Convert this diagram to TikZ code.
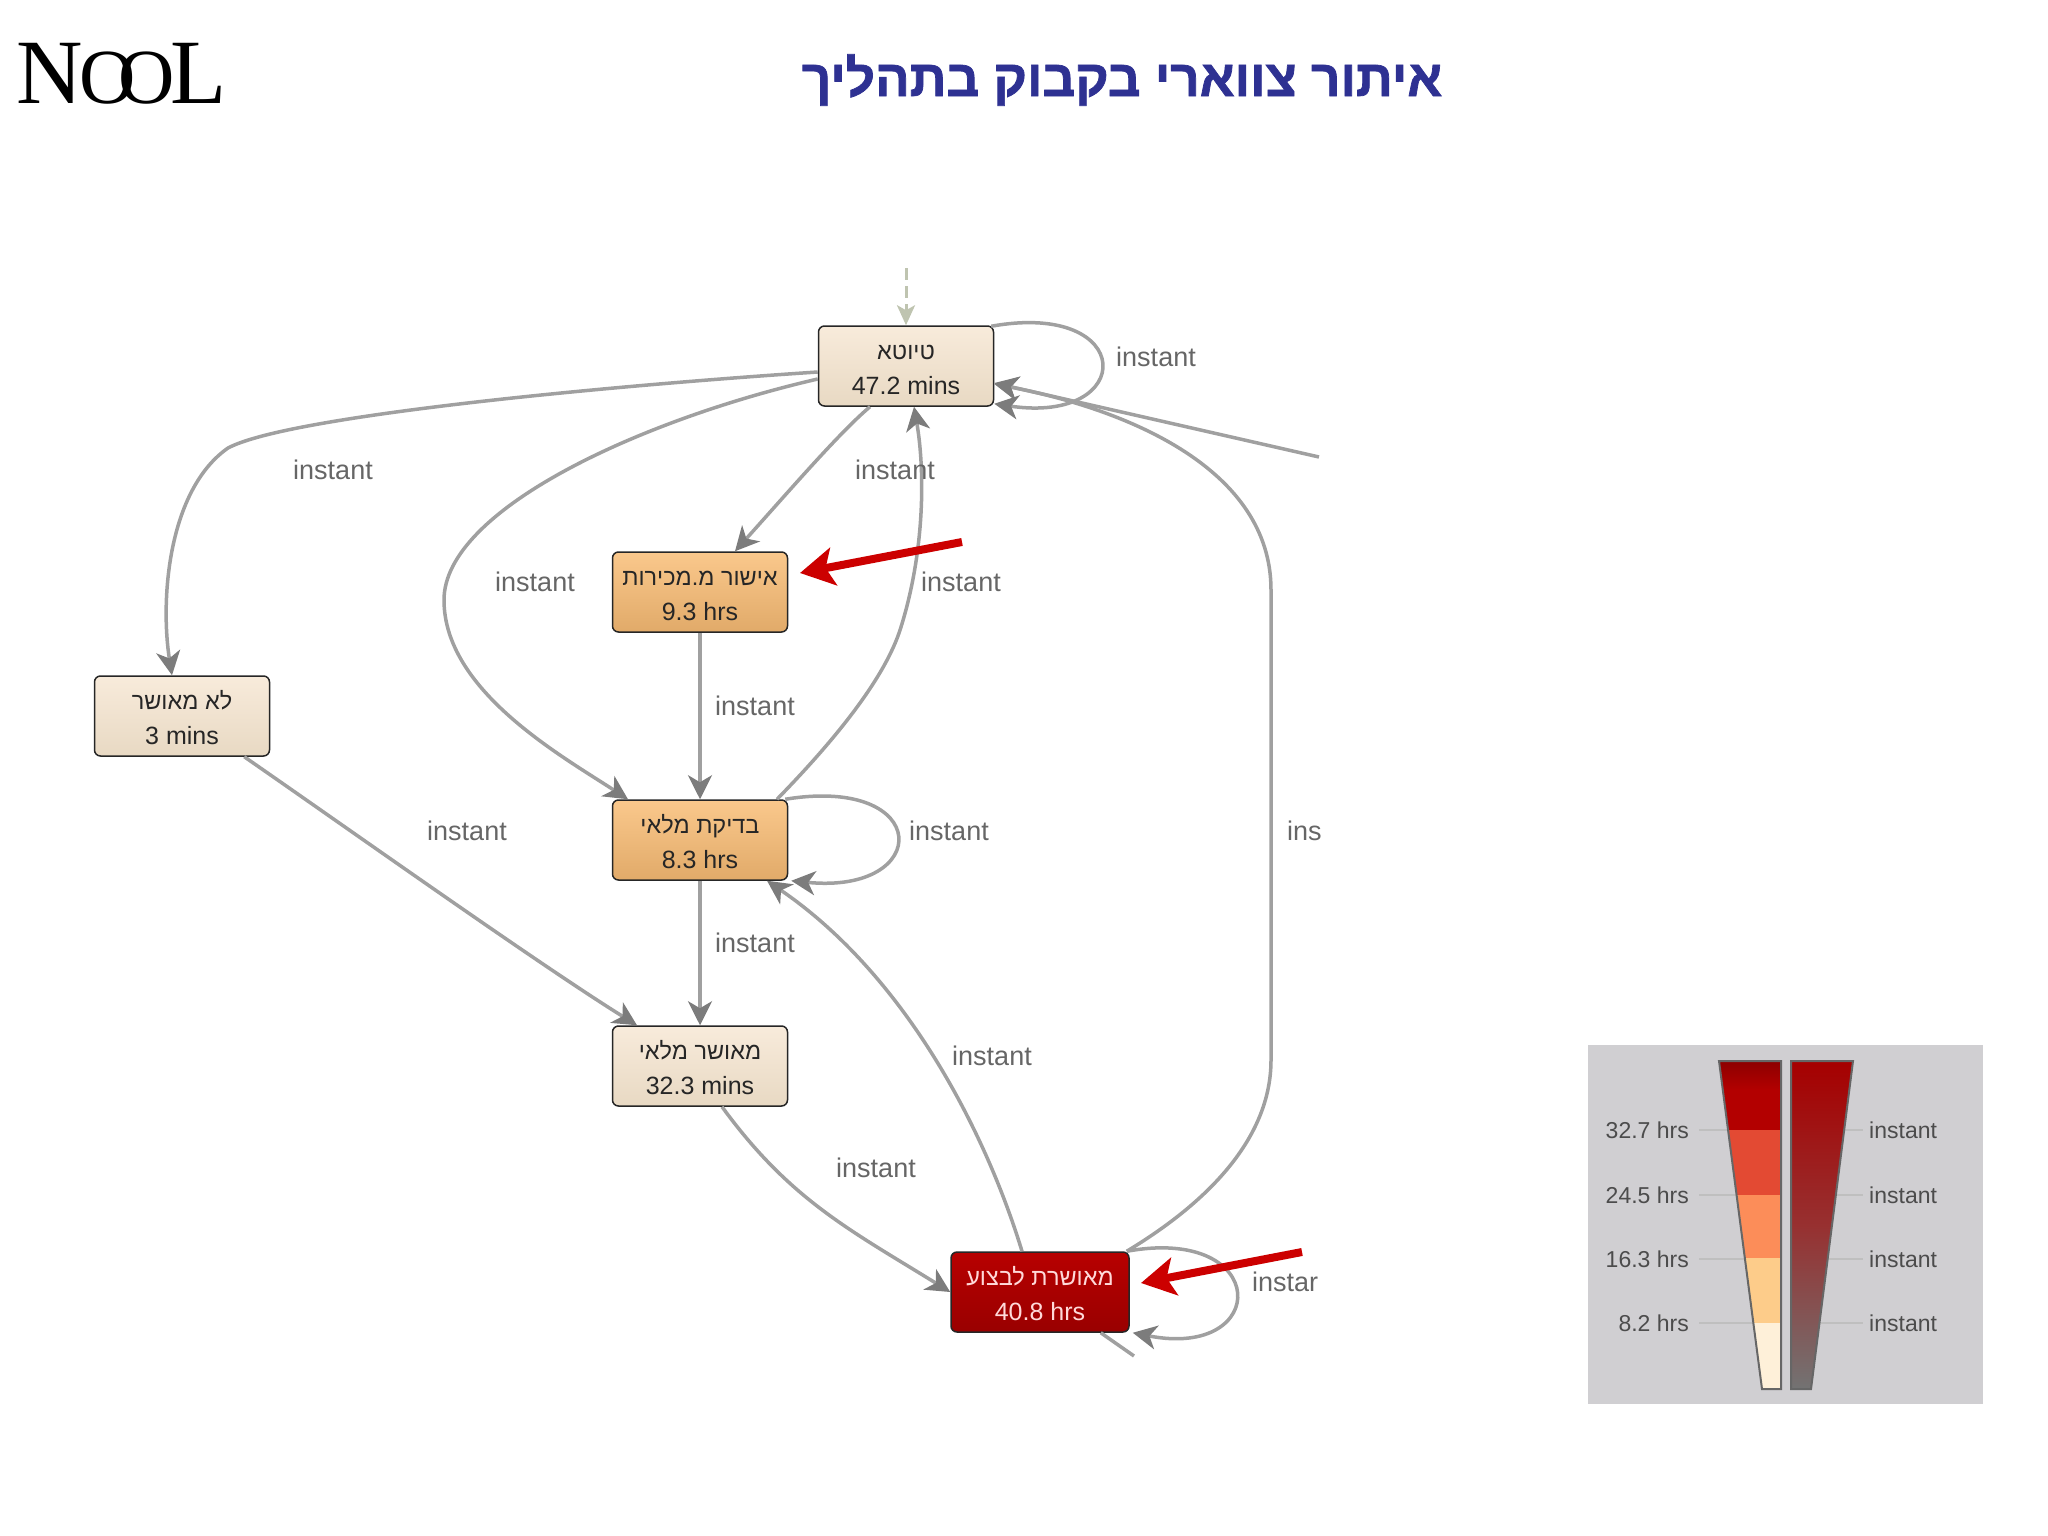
\documentclass[tikz,border=0pt]{standalone}
\usepackage{fontspec}
\setmainfont{Liberation Sans}
\newfontfamily\hebfont[Script=Hebrew,Scale=0.94]{Liberation Sans}
\newfontfamily\titlefont[Script=Hebrew,Scale=0.94,FakeBold=1.4]{Liberation Sans Bold}
\newfontfamily\logofont{Liberation Serif}
\TeXXeTstate=1
\usetikzlibrary{arrows.meta, positioning}
\newcommand{\heb}[1]{{\hebfont\beginR #1\endR}}
\definecolor{titleblue}{HTML}{2E3192}
\definecolor{flowgray}{HTML}{A0A0A0}
\definecolor{tipgray}{HTML}{7C7C7C}
\definecolor{labelgray}{HTML}{666666}
\definecolor{arrowred}{HTML}{CC0000}
\definecolor{legendbg}{HTML}{D0CFD2}
\definecolor{startgreen}{HTML}{BFC4B0}
\tikzset{
  stage/.style={draw=black!85, line width=1.5pt, rounded corners=6pt, minimum width=175pt,
    minimum height=80pt, inner sep=0pt, align=center, text=black!85,
    font=\fontsize{25}{35}\selectfont, text height=60pt, text depth=4pt},
  pale/.style={stage, top color={rgb,255:red,248;green,235;blue,219}, bottom color={rgb,255:red,232;green,217;blue,195}},
  warm/.style={stage, top color={rgb,255:red,250;green,200;blue,140}, bottom color={rgb,255:red,225;green,170;blue,105}},
  hot/.style={stage, top color=red!72!black, bottom color=red!60!black, text=white!85!red},
  flow/.style={draw=flowgray, line width=3.5pt, -{Stealth[length=24pt,width=24pt,inset=7pt,color=tipgray]}},
  lbl/.style={text=labelgray, font=\fontsize{27}{27}\selectfont, inner sep=0pt},
  callout/.style={draw=arrowred, line width=8pt, -{Stealth[length=34pt,width=38pt,inset=8pt]}},
  lgnd/.style={text=black!70, font=\fontsize{23}{23}\selectfont, inner sep=0pt},
  tick/.style={draw=black!25, line width=1.5pt}
}

\begin{document}
\begin{tikzpicture}[x=1pt, y=-1pt, on grid]
  \useasboundingbox (0,0) rectangle (2048,1536);

  \node[inner sep=0pt, anchor=west] (logo) at (16,74)
    {\logofont\fontsize{92}{92}\selectfont N\kern-3pt{\fontsize{78}{78}\selectfont O\kern-18pt O}\kern-4pt L};
  \node[text=titleblue, inner sep=0pt] (title) at (1122,80)
    {\fontsize{54.5}{55}\selectfont\titlefont\beginR איתור צווארי בקבוק בתהליך\endR};

  % states
  \node[pale] (draft) at (906,366) {\heb{טיוטא}\\47.2 mins};
  \node[warm, below left=226pt and 206pt of draft] (sales) {\heb{אישור מ.מכירות}\\9.3 hrs};
  \node[warm, below=248pt of sales] (check) {\heb{בדיקת מלאי}\\8.3 hrs};
  \node[pale, below=226pt of check] (full) {\heb{מאושר מלאי}\\32.3 mins};
  \node[pale, below left=124pt and 518pt of sales] (rejected) {\heb{לא מאושר}\\3 mins};
  \node[hot, minimum width=178pt, below right=226pt and 340pt of full] (exec) {\heb{מאושרת לבצוע}\\40.8 hrs};

  % free ends
  \coordinate (start) at (906,268);
  \coordinate (cutin) at (1319,457);
  \coordinate (cutout) at (1134,1356);
  \coordinate (salestail) at (962,542);
  \coordinate (salestip) at (800,573);
  \coordinate (exectail) at (1302,1252);
  \coordinate (exectip) at (1141,1283);

  % connectors
  \draw[draw=startgreen, line width=3pt, dash pattern=on 12pt off 6pt,
    -{Stealth[length=20pt,width=18pt,inset=5pt,color=startgreen]}] (start) -- (draft.north);
  \draw[flow] ([xshift=-3pt,yshift=-1pt]draft.north east) .. controls (1137,300) and (1137,425) .. ([yshift=3pt]draft.south east);
  \draw[flow] ([yshift=-6pt]draft.west) .. controls (620,385) and (290,415) .. (228,448)
    .. controls (168,490) and (160,600) .. ([xshift=-10pt]rejected.north);
  \draw[flow] ([yshift=-13pt]draft.west) .. controls (640,420) and (444,510) .. (444,600)
    .. controls (444,690) and (560,755) .. ([xshift=-72pt]check.north);
  \draw[flow] ([xshift=-36pt]draft.south) .. controls (840,432) and (790,490) .. ([xshift=35pt]sales.north);
  \draw[flow] ([xshift=77pt]check.north) .. controls (830,745) and (885,680) .. (901,627)
    .. controls (925,550) and (925,470) .. ([xshift=8pt]draft.south);
  \draw[flow] (sales) -- (check);
  \draw[flow] (check) -- (full);
  \draw[flow] ([xshift=-3pt]check.north east) .. controls (933,775) and (933,895) .. ([xshift=3pt]check.south east);
  \draw[flow] ([xshift=-26pt]rejected.south east) .. controls (350,830) and (540,965) .. ([xshift=-63pt]full.north);
  \draw[flow] ([xshift=22pt]full.south) .. controls (790,1200) and (850,1230) .. (exec.west);
  \draw[flow] ([xshift=-18pt]exec.north) .. controls (985,1130) and (905,975) .. ([xshift=67pt]check.south);
  \draw[flow] ([xshift=-3pt]exec.north east) .. controls (1220,1195) and (1271,1130) .. (1271,1060)
    -- (1271,590) .. controls (1271,470) and (1130,410) .. ([yshift=-18pt]draft.east);
  \draw[flow] (cutin) -- ([yshift=-17pt]draft.east);
  \draw[flow] ([xshift=-3pt]exec.north east) .. controls (1271,1225) and (1271,1360) .. ([xshift=3pt]exec.south east);
  \draw[draw=flowgray, line width=3.5pt] ([xshift=-29pt]exec.south east) -- (cutout);

  \draw[callout] (salestail) -- (salestip);
  \draw[callout] (exectail) -- (exectip);

  % edge labels
  \node[lbl] (l1) at (1156,357) {instant};
  \node[lbl] (l2) at (333,470) {instant};
  \node[lbl] (l3) at (895,470) {instant};
  \node[lbl] (l4) at (535,582) {instant};
  \node[lbl] (l5) at (961,582) {instant};
  \node[lbl] (l6) at (755,706) {instant};
  \node[lbl] (l7) at (467,831) {instant};
  \node[lbl] (l8) at (949,831) {instant};
  \node[lbl, anchor=west] (l9) at (1287,831) {ins};
  \node[lbl] (l10) at (755,943) {instant};
  \node[lbl] (l11) at (992,1056) {instant};
  \node[lbl] (l12) at (876,1168) {instant};
  \node[lbl, anchor=west] (l13) at (1252,1282) {instar};

  % legend
  \fill[legendbg] (1588,1045) rectangle (1983,1404);
  \foreach \ypos/\hrs in {1130/32.7 hrs, 1195/24.5 hrs, 1259/16.3 hrs, 1323/8.2 hrs} {
    \draw[tick] (1699,\ypos) -- (1760,\ypos);
    \draw[tick] (1800,\ypos) -- (1863,\ypos);
    \node[lgnd, anchor=east] at (1689,\ypos) {\hrs};
    \node[lgnd, anchor=west] at (1869,\ypos) {instant};
  }
  \definecolor{bandA}{HTML}{B30000}
  \definecolor{bandB}{HTML}{E34A33}
  \definecolor{bandC}{HTML}{FC8D59}
  \definecolor{bandD}{HTML}{FDCC8A}
  \definecolor{bandE}{HTML}{FEF0D9}
  \begin{scope}
    \clip (1719,1061) -- (1781,1061) -- (1781,1389) -- (1762,1389) -- cycle;
    \fill[bandA] (1700,1061) rectangle (1790,1130);
    \shade[top color=red!55!black, bottom color=bandA] (1700,1061) rectangle (1790,1090);
    \fill[bandB] (1700,1130) rectangle (1790,1195);
    \fill[bandC] (1700,1195) rectangle (1790,1258);
    \fill[bandD] (1700,1258) rectangle (1790,1323);
    \fill[bandE] (1700,1323) rectangle (1790,1389);
  \end{scope}
  \draw[black!60, line width=2pt] (1719,1061) -- (1781,1061) -- (1781,1389) -- (1762,1389) -- cycle;
  \definecolor{funnelmid}{HTML}{973030}
  \shade[top color=red!65!black, bottom color=black!55, middle color=funnelmid, draw=black!60, line width=2pt]
    (1791,1061) -- (1853,1061) -- (1811,1389) -- (1791,1389) -- cycle;
\end{tikzpicture}
\end{document}
